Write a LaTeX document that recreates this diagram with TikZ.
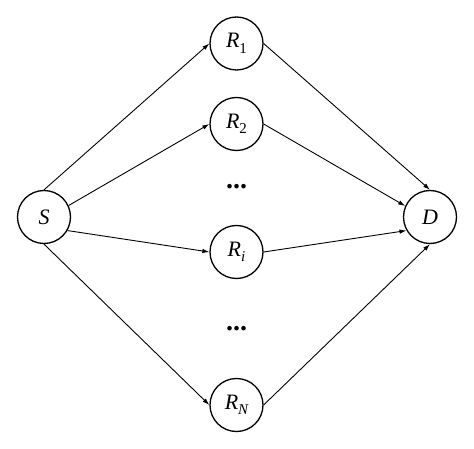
\documentclass[tikz,border=0pt]{standalone}
\usepackage{fontspec}
\setmainfont{Liberation Serif}
\usetikzlibrary{arrows.meta}
\newcommand{\sub}[1]{\raisebox{-0.25em}{\fontsize{15}{15}\selectfont #1}}
\begin{document}
\begin{tikzpicture}[x=1pt,y=-1pt,
  vert/.style={circle,draw,line width=1.3pt,minimum size=53pt,inner sep=0pt,font=\fontsize{22}{24}\selectfont\itshape},
  edge/.style={line width=0.9pt,-{Latex[length=7pt,width=4.5pt]}},
  dotsnode/.style={inner sep=0pt,font=\fontsize{28}{28}\selectfont\bfseries}]
\useasboundingbox (0,0) rectangle (474,449);
\node[vert] (S) at (44,217) {S};
\node[vert] (D) at (430,217) {D};
\node[vert] (R1) at (236.5,43.5) {R\sub{\upshape 1}};
\node[vert] (R2) at (236.5,124) {R\sub{\upshape 2}};
\node[vert] (Ri) at (236.5,252) {R\sub{i}};
\node[vert] (RN) at (236.5,405) {R\sub{N}};
\node[dotsnode] (d1) at (236.5,187) {...};
\node[dotsnode] (d2) at (236.5,329) {...};
\draw[edge] (S.north) -- (R1.west);
\draw[edge] (S.25) -- (R2.west);
\draw[edge] (S.-30) -- (Ri.west);
\draw[edge] (S.south) -- (RN.west);
\draw[edge] (R1.east) -- (D.north);
\draw[edge] (R2.east) -- (D.156);
\draw[edge] (Ri.east) -- (D.210);
\draw[edge] (RN.east) -- (D.south);
\end{tikzpicture}
\end{document}
